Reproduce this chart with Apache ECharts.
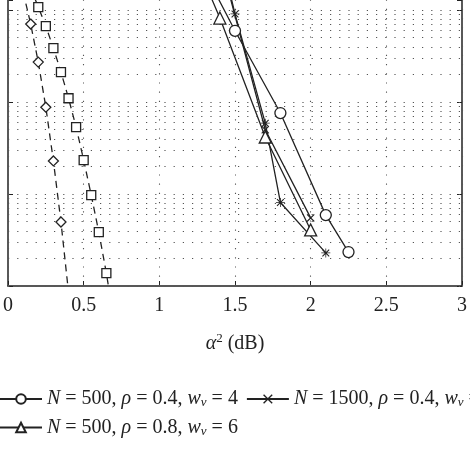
<!DOCTYPE html>
<html>
<head>
<meta charset="utf-8">
<script src="https://cdn.jsdelivr.net/npm/echarts@6/dist/echarts.min.js"></script>
<style>html,body{margin:0;padding:0;background:#fff}#main{width:470px;height:470px}</style>
</head>
<body>
<div id="main"></div>
<script>
var font = 'Liberation Serif';

// x = alpha^2 (dB), y = BER (log scale)
var circleX = [1.35, 1.5, 1.8, 2.1, 2.25];
var circleY = [1.78e-3, 5.96e-4, 7.6e-5, 5.9e-6, 2.34e-6];
var triX = [1.3, 1.4, 1.7, 2.0];
var triY = [2.0e-3, 8.2e-4, 4.17e-5, 4.07e-6];
var crossX = [1.45, 1.7, 2.0];
var crossY = [1.78e-3, 5.0e-5, 5.5e-6];
var starX = [1.45, 1.5, 1.7, 1.8, 2.1];
var starY = [2.0e-3, 9.1e-4, 5.9e-5, 8.1e-6, 2.29e-6];
var squareX = [0.15, 0.2, 0.25, 0.3, 0.35, 0.4, 0.45, 0.5, 0.55, 0.6, 0.65, 0.7];
var squareY = [1.74e-3, 1.08e-3, 6.7e-4, 3.86e-4, 2.12e-4, 1.10e-4, 5.35e-5, 2.34e-5, 9.75e-6, 3.86e-6, 1.38e-6, 4.2e-7];
var diamondX = [0.1, 0.15, 0.2, 0.25, 0.3, 0.35, 0.4];
var diamondY = [1.58e-3, 7.05e-4, 2.72e-4, 8.8e-5, 2.29e-5, 4.97e-6, 8.5e-7];
var xTicks = [0, 0.5, 1, 1.5, 2, 2.5, 3];
var decades = [-6, -5, -4, -3];
var yMin = -6, yMax = -2.89; // log10 of the visible BER range

var crossPath = 'path://M0,1 L1,0 L10,9 L9,10 Z M9,0 L10,1 L1,10 L0,9 Z';
var starPath = 'path://M0,1 L1,0 L10,9 L9,10 Z M9,0 L10,1 L1,10 L0,9 Z M4.5,-1 L5.5,-1 L5.5,11 L4.5,11 Z M-1,4.5 L11,4.5 L11,5.5 L-1,5.5 Z';

function pts(xs, ys) {
    return xs.map(function (x, i) { return [x, Math.log10(ys[i])]; });
}

// dotted horizontal grid lines at every log minor/major position
var hLines = [];
decades.forEach(function (d) {
    for (var k = 1; k <= 9; k++) {
        var v = d + Math.log10(k);
        if (v <= yMax) hLines.push({yAxis: v});
    }
});
var vLines = xTicks.map(function (x) { return {xAxis: x}; });

function mk(name, xs, ys, symbol, size, dashed, withGrid) {
    var s = {
        name: name,
        type: 'line',
        data: pts(xs, ys),
        symbol: symbol,
        symbolSize: size,
        showSymbol: true,
        clip: true,
        lineStyle: {color: '#222', width: 1.3, type: dashed ? [7, 5] : 'solid'},
        itemStyle: {color: '#fff', borderColor: '#222', borderWidth: 1.3},
        animation: false,
        z: 5
    };
    if (symbol.indexOf('path://') === 0) {
        s.itemStyle = {color: '#222', borderWidth: 0};
    }
    if (withGrid) {
        s.markLine = {
            silent: true, symbol: 'none', label: {show: false},
            lineStyle: {color: '#555', width: 1.1, type: [1.2, 8]},
            data: hLines.concat(vLines),
            animation: false
        };
    }
    return s;
}

function legendText(name) {
    var p = name.split('|');
    return '{i|N} = ' + p[0] + ', {i|ρ} = ' + p[1] + ', {i|w}{s|v} = ' + p[2];
}

var chart = echarts.init(document.getElementById('main'));
chart.setOption({
    backgroundColor: '#fff',
    animation: false,
    grid: {left: 0, right: 3, top: 0, bottom: 184},
    xAxis: {
        type: 'value', min: 0, max: 3, interval: 0.5,
        name: '{i|α}{sup|2} (dB)', nameLocation: 'middle', nameGap: 46,
        nameTextStyle: {fontFamily: font, fontSize: 20, color: '#222',
            rich: {i: {fontFamily: font, fontStyle: 'italic', fontSize: 20, color: '#222'},
                   sup: {fontFamily: font, fontSize: 13, verticalAlign: 'top', padding: [0, 0, 10, 0], color: '#222'}}},
        axisLine: {lineStyle: {color: '#222', width: 1.5}},
        axisTick: {inside: true, length: 5, lineStyle: {color: '#222'}},
        axisLabel: {fontFamily: font, fontSize: 20, color: '#222', margin: 10,
            formatter: function (v) { return String(v); }},
        splitLine: {show: false}
    },
    yAxis: [{
        type: 'value', min: yMin, max: yMax, interval: 1,
        axisLine: {show: true, lineStyle: {color: '#222', width: 1.5}},
        axisTick: {show: true, inside: true, length: 5, lineStyle: {color: '#222'}},
        axisLabel: {show: false},
        splitLine: {show: false}
    }, {
        type: 'value', min: yMin, max: yMax, interval: 1, position: 'right',
        axisLine: {show: true, lineStyle: {color: '#222', width: 1.5}},
        axisTick: {show: true, inside: true, length: 5, lineStyle: {color: '#222'}},
        axisLabel: {show: false},
        splitLine: {show: false}
    }],
    legend: {
        orient: 'vertical', left: -6, top: 384, itemGap: 8,
        itemWidth: 42, itemHeight: 12,
        data: ['500|0.4|4', '500|0.8|6', '1500|0.4|6'],
        formatter: legendText,
        textStyle: {fontFamily: font, fontSize: 20, color: '#222',
            rich: {i: {fontFamily: font, fontStyle: 'italic', fontSize: 20, color: '#222'},
                   s: {fontFamily: font, fontStyle: 'italic', fontSize: 13, color: '#222', verticalAlign: 'bottom', padding: [8, 0, 0, 0]}}}
    },
    series: [
        mk('500|0.4|4', circleX, circleY, 'circle', 11, false, true),
        mk('500|0.8|6', triX, triY, 'triangle', 12, false, false),
        mk('1500|0.4|6', crossX, crossY, crossPath, 8, false, false),
        mk('1500|0.8|6', starX, starY, starPath, 9, false, false),
        mk('square', squareX, squareY, 'rect', 9, true, false),
        mk('diamond', diamondX, diamondY, 'diamond', 10, true, false)
    ]
});
</script>
</body>
</html>
